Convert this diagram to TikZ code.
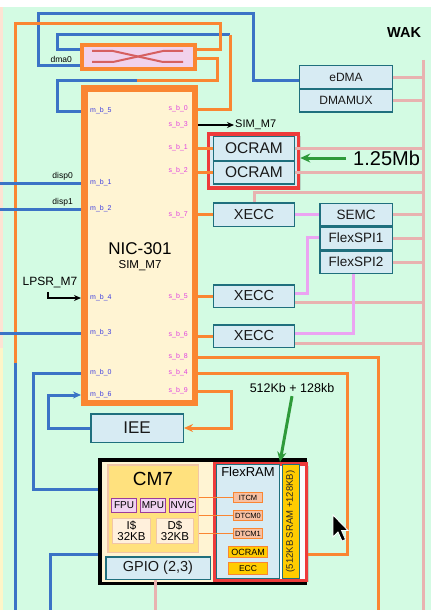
\documentclass[tikz,border=0pt]{standalone}
\usepackage{fontspec}
\setmainfont{Liberation Sans}
\usetikzlibrary{arrows.meta,shadows}
\newcommand{\fsz}[1]{\fontsize{#1}{#1}\selectfont}
\definecolor{bgc}{HTML}{D3FBE3}
\definecolor{peachc}{HTML}{FDE3D3}
\definecolor{lyelc}{HTML}{FDF5C8}
\definecolor{orc}{HTML}{FA8632}
\definecolor{blc}{HTML}{3B73C6}
\definecolor{tealc}{HTML}{1F6F7D}
\definecolor{boxc}{HTML}{D7EBF3}
\definecolor{creamc}{HTML}{FFF4D3}
\definecolor{pkc}{HTML}{E8B2B0}
\definecolor{vic}{HTML}{EBA4F2}
\definecolor{redc}{HTML}{EE3B3B}
\definecolor{grc}{HTML}{2E9A3A}
\definecolor{mbc}{HTML}{3E3EE0}
\definecolor{sbc}{HTML}{E040E0}
\definecolor{xbfill}{HTML}{F1D2EC}
\definecolor{xline}{HTML}{D66060}
\definecolor{cm7c}{HTML}{FFE17E}
\definecolor{cm7bd}{HTML}{F2C6A6}
\definecolor{fpuc}{HTML}{F1D3F1}
\definecolor{fpubd}{HTML}{9C3C9C}
\definecolor{cachec}{HTML}{FFF0DC}
\definecolor{tcmc}{HTML}{F7C0A2}
\definecolor{yelc}{HTML}{FFCC00}
\tikzset{
  box/.style={draw=tealc, fill=boxc, line width=1.5, inner sep=0, text=black!90},
  blueln/.style={draw=blc, line width=3},
  orln/.style={draw=orc, line width=3},
  pinkln/.style={draw=pkc, line width=3},
  violn/.style={draw=vic, line width=3},
  mbl/.style={font=\fsz{7}, text=mbc, anchor=west, inner sep=0},
  sbl/.style={font=\fsz{7}, text=sbc, anchor=east, inner sep=0},
  unit/.style={draw=fpubd, fill=fpuc, line width=1, inner sep=0, font=\fsz{10}, minimum width=25, minimum height=14},
  tcm/.style={draw=orc, fill=tcmc, line width=1, inner sep=0, font=\fsz{7.5}, minimum width=29, minimum height=10.5},
  shd/.style={drop shadow={shadow xshift=2pt, shadow yshift=-2pt, opacity=.3}},
}
\begin{document}
\begin{tikzpicture}[x=1pt, y=-1pt]
  % 배경
  \useasboundingbox (0,0) rectangle (431,610);
  \clip (0,0) rectangle (431,610);
  \fill[white] (0,0) rectangle (431,610);
  \fill[bgc] (3,7) rectangle (431,610);
  \fill[peachc] (0,7) rectangle (3,348);
  \fill[lyelc] (0,348) rectangle (3,610);
  \node[font=\fsz{14.5}\bfseries, anchor=west, inner sep=0] (wak) at (387,33) {WAK};

  % 크로스바
  \node[draw=orc, fill=xbfill, line width=4, minimum width=113, minimum height=24, inner sep=0, shd] (xbar) at (138.5,57) {};
  \draw[xline, line width=2] (92,51) -- (113,51) -- (163,62) -- (183,62);
  \draw[xline, line width=2] (92,62) -- (113,62) -- (163,51) -- (183,51);
  \node[font=\fsz{8.5}, anchor=east, inner sep=0] (dma0) at (72,59) {dma0};

  % NIC-301
  \node[draw=orc, fill=creamc, line width=6.5, minimum width=110.5, minimum height=314.5, inner sep=0, shd] (nic) at (139.5,245.5) {};
  \node[font=\fsz{17}] (nicname) at (140,249) {NIC-301};
  \node[font=\fsz{11.5}] (nicsub) at (140,266) {SIM\_M7};
  \foreach \n/\y in {5/111, 1/183, 2/209, 4/298, 3/333, 0/373, 6/395}
    \node[mbl] (mb\n) at (90,\y) {m\_b\_\n};
  \foreach \n/\y in {0/109, 3/125, 1/148, 2/171, 7/215, 5/297, 6/335, 8/357, 4/373, 9/391}
    \node[sbl] (sb\n) at (188,\y) {s\_b\_\n};

  % 오른쪽 블록
  \node[box, minimum width=93, minimum height=23, font=\fsz{12}] (edma) at (346,77) {eDMA};
  \node[box, minimum width=93, minimum height=23, font=\fsz{12}] (dmamux) at (346,100.5) {DMAMUX};
  \node[draw=redc, fill=boxc, line width=3.5, minimum width=90, minimum height=54, inner sep=0, shd] (ocbox) at (253.5,161) {};
  \node[box, minimum width=81, minimum height=24, font=\fsz{15.5}] (ocram1) at (254,148.5) {OCRAM};
  \node[box, minimum width=81, minimum height=22.5, font=\fsz{15.5}] (ocram2) at (254,172.5) {OCRAM};
  \node[font=\fsz{20}, anchor=west, inner sep=7] (mb125) at (346,158) {1.25Mb};
  \node[anchor=west, inner sep=1, font=\fsz{11}] (simlbl) at (234,125) {SIM\_M7};
  \node[box, minimum width=81, minimum height=23.5, font=\fsz{14.5}] (xecc1) at (254,214.5) {XECC};
  \node[box, minimum width=81, minimum height=22.5, font=\fsz{14.5}] (xecc2) at (254,296) {XECC};
  \node[box, minimum width=81, minimum height=22.5, font=\fsz{14.5}] (xecc3) at (254,336) {XECC};
  \node[box, minimum width=72.5, minimum height=22, font=\fsz{13.5}] (semc) at (356,214.5) {SEMC};
  \node[box, minimum width=72.5, minimum height=22.5, font=\fsz{13.5}] (flexspi1) at (356,238) {FlexSPI1};
  \node[box, minimum width=72.5, minimum height=22.5, font=\fsz{13.5}] (flexspi2) at (356,262) {FlexSPI2};

  % IEE
  \node[box, minimum width=92.5, minimum height=28.5, font=\fsz{17}] (iee) at (137,428) {IEE};

  % CM7
  \node[draw=black, fill=creamc, line width=3.5, minimum width=205.5, minimum height=123.5, inner sep=0, shd] (cm7box) at (202.5,521.5) {};
  \node[draw=cm7bd, fill=cm7c, line width=1.5, minimum width=90.5, minimum height=87.5, inner sep=0] (cm7core) at (153,508.5) {};
  \node[font=\fsz{19}] (cm7) at (153,479) {CM7};
  \node[unit] (fpu) at (124,505.5) {FPU};
  \node[unit] (mpu) at (153,505.5) {MPU};
  \node[unit, minimum width=26] (nvic) at (182.5,505.5) {NVIC};
  \node[draw=cm7bd, fill=cachec, line width=1, minimum width=38, minimum height=25, inner sep=0, font=\fsz{11.5}, align=center] (icache) at (131.5,531) {I\$\\[-1pt]32KB};
  \node[draw=cm7bd, fill=cachec, line width=1, minimum width=37, minimum height=25, inner sep=0, font=\fsz{11.5}, align=center] (dcache) at (175,531) {D\$\\[-1pt]32KB};
  \node[box, minimum width=104.5, minimum height=22.5, font=\fsz{14.5}] (gpio) at (158,568) {GPIO (2,3)};

  % FlexRAM
  \node[draw=redc, fill=white!90!boxc, line width=3.5, minimum width=92, minimum height=116.5, inner sep=0, shd] (flexbox) at (260.5,522) {};
  \node[draw=tealc, fill=boxc, line width=1.2, minimum width=63, minimum height=113.5, inner sep=0] (flexin) at (248,521.5) {};
  \node[font=\fsz{13}] (flexram) at (248,472) {FlexRAM};
  \node[draw=tealc, fill=yelc, line width=1, minimum width=17, minimum height=113.5, inner sep=0] (sramb) at (290.5,521.5) {};
  \node[rotate=90, font=\fsz{9.5}, inner sep=0, text=black!85] (sramlbl) at (sramb) {(512KB SRAM +128KB)};
  \node[tcm] (itcm) at (248,497.5) {ITCM};
  \node[tcm] (dtcm0) at (248,515.5) {DTCM0};
  \node[tcm] (dtcm1) at (248,533.5) {DTCM1};
  \node[draw=orc, fill=yelc, line width=1.5, minimum width=39, minimum height=11, inner sep=0, font=\fsz{9}] (ocramf) at (248,552) {OCRAM};
  \node[draw=orc, fill=yelc, line width=1.5, minimum width=39, minimum height=12, inner sep=0, font=\fsz{8.5}] (eccf) at (248,568.5) {ECC};
  \node[font=\fsz{12.5}] (lbl512) at (292,388) {512Kb + 128kb};

  % 왼쪽 라벨
  \node[font=\fsz{8.5}, anchor=east, inner sep=0] (disp0) at (73,176) {disp0};
  \node[font=\fsz{8.5}, anchor=east, inner sep=0] (disp1) at (73,202) {disp1};
  \node[font=\fsz{12}] (lpsr) at (50,283) {LPSR\_M7};

  % 끝점
  \coordinate (lft) at (0,0);
  \coordinate (bustop) at (423,60);
  \coordinate (busbot) at (423,610);
  \coordinate (xbjoin) at (230,35);
  \coordinate (dmajoin) at (137,80);
  \coordinate (outjoin) at (15,363);
  \coordinate (outbot) at (15,610);
  \coordinate (sb8out) at (378,610);
  \coordinate (cm7in) at (50,610);
  \coordinate (gpioout) at (155,610);

  % 파란선 / 주황선 (크로스바)
  \draw[blueln] (xbar.west |- 0,66) -| (38,14) -| (253,80) -- (edma.west |- 0,80);
  \draw[blueln] (xbar.west |- 0,50) -| (57,35) -- (xbjoin);
  \draw[orln] (xbjoin) |- (nic.east |- sb0);
  \draw[orln] (xbar.east |- 0,59) -| (217,80) -- (dmajoin);
  \draw[blueln] (dmajoin) -- (57,80) |- (nic.west |- mb5);
  \draw[orln] (xbar.east |- 0,50) -| (220,24) -| (outjoin);
  \draw[blueln] (outjoin) -- (outbot);

  % 마스터 포트
  \draw[blueln] (lft |- mb1) -- (nic.west |- mb1);
  \draw[blueln] (lft |- mb2) -- (nic.west |- mb2);
  \draw[blueln] (lft |- mb3) -- (nic.west |- mb3);
  \draw[line width=2.5, -{Stealth[length=7,width=6]}] ([xshift=-2]lpsr.south) |- (nic.west |- mb4);
  \draw[blueln] (nic.west |- mb0) -| (33,489) -- (cm7box.west |- 0,489);
  \draw[blueln, -{Stealth[length=8,width=7]}] (iee.west) -| (48,395) -- (nic.west |- mb6);
  \draw[blueln] (cm7in) |- (cm7box.west |- 0,554);

  % 슬레이브 포트
  \draw[orln] (nic.east |- ocram1) -- (ocram1.west);
  \draw[orln] (nic.east |- ocram2) -- (ocram2.west);
  \draw[line width=2.5, -{Stealth[length=7,width=6]}] (nic.east |- sb3) -- (simlbl.west);
  \draw[orln] (nic.east |- xecc1) -- (xecc1.west);
  \draw[orln] (nic.east |- xecc2) -- (xecc2.west);
  \draw[orln] (nic.east |- xecc3) -- (xecc3.west);
  \draw[orln] (nic.east |- sb8) -| (sb8out);
  \draw[orln] (nic.east |- sb4) -| (347,554) -- (flexbox.east |- 0,554);
  \draw[orln, -{Stealth[length=9,width=8]}] (nic.east |- sb9) -| (231,428) -- (iee.east);

  % 핑크 버스
  \draw[pinkln] (bustop) -- (busbot);
  \draw[pinkln] (edma.east) -- (edma.east -| bustop);
  \draw[pinkln] (dmamux.east) -- (dmamux.east -| bustop);
  \draw[pinkln] (ocram1.east) -- (ocram1.east -| bustop);
  \draw[pinkln] (ocram2.east) -- (ocram2.east -| bustop);
  \draw[pinkln] (xecc1.north) |- (bustop |- 0,192);
  \draw[pinkln] (semc.east) -- (semc.east -| bustop);
  \draw[pinkln] (flexspi1.east) -- (flexspi1.east -| bustop);
  \draw[pinkln] (flexspi2.east) -- (flexspi2.east -| bustop);
  \draw[pinkln] (xecc2.east |- 0,302) -- (bustop |- 0,302);
  \draw[pinkln] (xecc3.east |- 0,343) -- (bustop |- 0,343);
  \draw[pinkln] (gpio.south -| gpioout) -- (gpioout);

  % XECC - SEMC/FlexSPI
  \draw[violn] (xecc1.east) -- (semc.west);
  \draw[violn] (xecc2.east |- 0,293) -| (307,237) -- (flexspi1.west |- 0,237);
  \draw[violn] (xecc3.east |- 0,333) -| (353,0 |- flexspi2.south);

  % CM7 - TCM
  \draw[orc, line width=1] (cm7core.east |- itcm) -- (itcm.west);
  \draw[orc, line width=1] (cm7core.east |- dtcm0) -- (dtcm0.west);
  \draw[orc, line width=1] (cm7core.east |- dtcm1) -- (dtcm1.west);

  % 초록 화살표
  \draw[grc, line width=3, -{Stealth[length=10,width=9]}] (mb125.west) -- (ocbox.east |- mb125);
  \draw[grc, line width=3, -{Stealth[length=10,width=9]}] (lbl512.south) -- ([xshift=19.5]flexbox.north);

  % 커서
  \filldraw[fill=black, draw=white, line width=0.8] (333,515) -- (333,537) -- (338,532) -- (342,541) -- (345.5,539.5) -- (341.5,530.5) -- (348,530.5) -- cycle;
\end{tikzpicture}
\end{document}
